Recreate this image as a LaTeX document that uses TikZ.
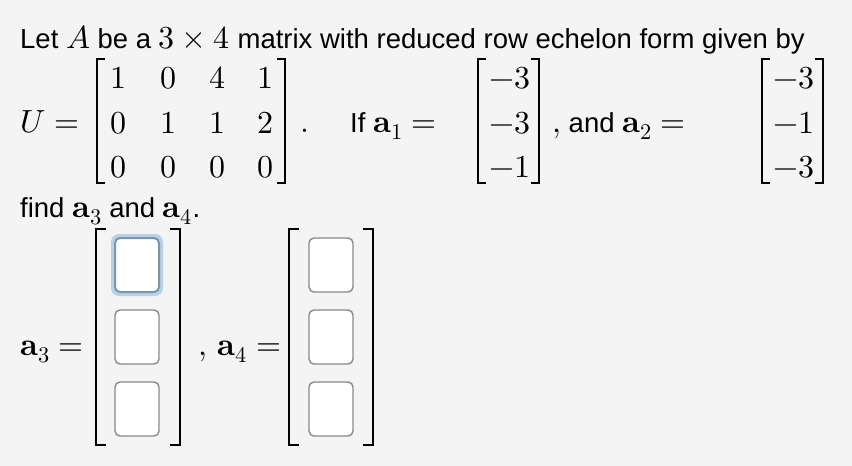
\documentclass[tikz,border=0pt]{standalone}
\usepackage{amsmath}
\usepackage{fontspec}
\usepackage{unicode-math}
\setmainfont{Liberation Sans}
\setmathfont{Latin Modern Math}
\definecolor{bg}{HTML}{F4F4F4}
\definecolor{boxgray}{HTML}{8A8A8A}
\definecolor{glow}{HTML}{7FB0DA}
\newcommand{\M}[1]{{\fontsize{32}{36}\selectfont$#1$}}
\begin{document}
\begin{tikzpicture}[x=1pt,y=-1pt,
  txt/.style={inner sep=0pt,anchor=base west,font=\fontsize{27.5}{32}\selectfont},
  mth/.style={inner sep=0pt,anchor=base,font=\fontsize{32}{36}\selectfont},
  brk/.style={line width=2.6pt},
  ansbox/.style={draw=boxgray,line width=1.4pt,fill=white,rounded corners=5pt,minimum width=44pt,minimum height=54pt,inner sep=0pt}]
\fill[bg] (0,0) rectangle (852,466);
\useasboundingbox (0,0) rectangle (852,466);
% line 1
\node[txt] (l1) at (20,48) {Let \M{A} be a \M{3\times4} matrix with reduced row echelon form given by};
% U
\node[txt] (ueq) at (20,132) {\M{U=}};
\draw[brk] (105,59) -| (97,183) -- (105,183);
\draw[brk] (277,59) -| (285,183) -- (277,183);
\node[mth] (u11) at (118,88) {$1$};\node[mth] (u12) at (168,88) {$0$};\node[mth] (u13) at (217,88) {$4$};\node[mth] (u14) at (265,88) {$1$};
\node[mth] (u21) at (118,133) {$0$};\node[mth] (u22) at (168,133) {$1$};\node[mth] (u23) at (217,133) {$1$};\node[mth] (u24) at (265,133) {$2$};
\node[mth] (u31) at (118,177) {$0$};\node[mth] (u32) at (168,177) {$0$};\node[mth] (u33) at (217,177) {$0$};\node[mth] (u34) at (265,177) {$0$};
\node[txt] (dot) at (300,132) {\M{.}};
\node[txt] (if) at (350,132) {If \M{\symbf{a}_1=}};
% a1
\draw[brk] (486,59) -| (478,183) -- (486,183);
\draw[brk] (531,59) -| (539,183) -- (531,183);
\node[mth] (a11) at (510,88) {$-3$};
\node[mth] (a12) at (510,133) {$-3$};
\node[mth] (a13) at (510,177) {$-1$};
\node[txt] (and) at (552,132) {\M{,} and \M{\symbf{a}_2=}};
% a2
\draw[brk] (770,59) -| (762,183) -- (770,183);
\draw[brk] (815,59) -| (823,183) -- (815,183);
\node[mth] (a21) at (794,88) {$-3$};
\node[mth] (a22) at (794,133) {$-1$};
\node[mth] (a23) at (794,177) {$-3$};
% find
\node[txt] (find) at (20,217) {find \M{\symbf{a}_3} and \M{\symbf{a}_4}.};
% a3
\node[txt] (a3eq) at (20,355) {\M{\symbf{a}_3=}};
\draw[brk] (106,229) -| (96,445) -- (106,445);
\draw[brk] (170,229) -| (180,445) -- (170,445);
\fill[glow,opacity=0.5,rounded corners=8pt] (111,234) rectangle (163,296);
\node[ansbox,draw=glow!70!black!80,line width=2pt] (b31) at (137,265) {};
\node[ansbox] (b32) at (137,337) {};
\node[ansbox] (b33) at (137,409) {};
\node[txt] (a4eq) at (198,355) {\M{,\,\symbf{a}_4=}};
% a4
\draw[brk] (299,229) -| (289,445) -- (299,445);
\draw[brk] (363,229) -| (373,445) -- (363,445);
\node[ansbox] (b41) at (331,265) {};
\node[ansbox] (b42) at (331,337) {};
\node[ansbox] (b43) at (331,409) {};
\end{tikzpicture}
\end{document}
